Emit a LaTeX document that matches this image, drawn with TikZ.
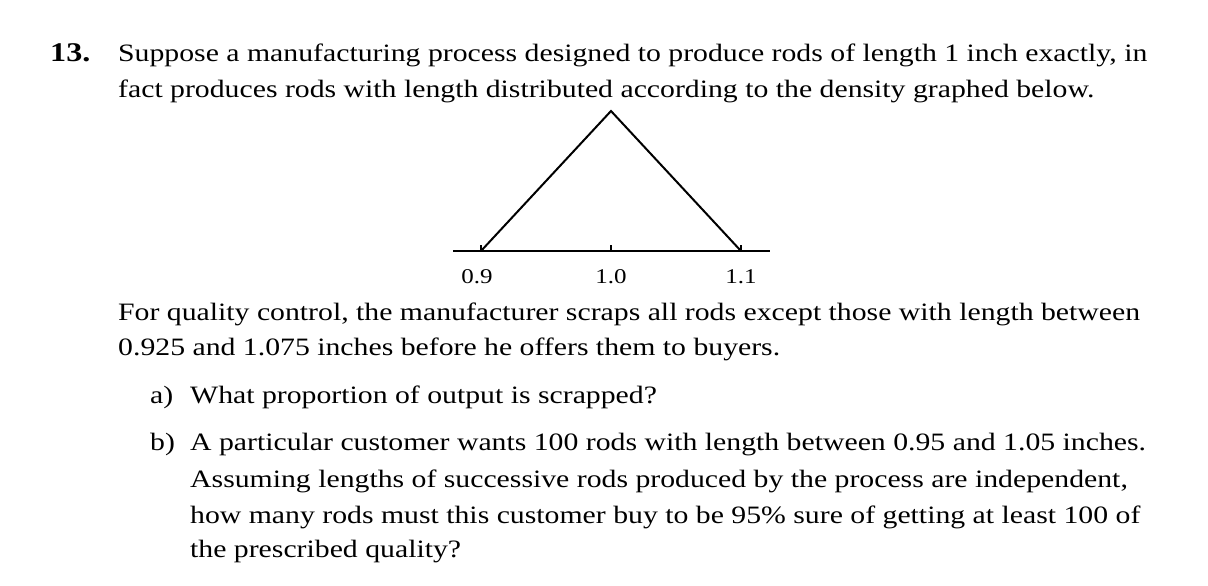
\documentclass[tikz,border=0pt]{standalone}
\usepackage{fontspec}
\setmainfont[FakeStretch=1.19]{Liberation Serif}
\begin{document}
\begin{tikzpicture}[x=1pt,y=-1pt,
  txt/.style={anchor=base west,inner sep=0pt,font=\fontsize{25}{30}\selectfont},
  lab/.style={anchor=base,inner sep=0pt,font=\fontsize{21}{25}\selectfont},
  ln/.style={line width=2pt}]
\useasboundingbox (0,0) rectangle (1208,586);
\node[txt,font=\fontsize{27}{30}\selectfont\bfseries] (n13) at (50,62) {13.};
\node[txt] (l1) at (118,62) {Suppose a manufacturing process designed to produce rods of length 1 inch exactly, in};
\node[txt] (l2) at (118,97) {fact produces rods with length distributed according to the density graphed below.};
\coordinate (axL) at (453,251); \coordinate (axR) at (770,251);
\coordinate (p1) at (481,251); \coordinate (p2) at (611,251); \coordinate (p3) at (741,251);
\coordinate (top) at (611,111);
\draw[ln] (axL) -- (axR);
\draw[ln,line join=miter] (p1) -- (top) -- (p3);
\foreach \p in {p1,p2,p3} \draw[line width=1.5pt] (\p) -- ++(0,-6);
\node[lab] (t1) at (477,283) {0.9};
\node[lab] (t2) at (611,283) {1.0};
\node[lab] (t3) at (741,283) {1.1};
\node[txt] (l3) at (118,320) {For quality control, the manufacturer scraps all rods except those with length between};
\node[txt] (l4) at (118,355) {0.925 and 1.075 inches before he offers them to buyers.};
\node[txt] (a) at (150,403) {a)};
\node[txt] (a1) at (190,403) {What proportion of output is scrapped?};
\node[txt] (b) at (150,450) {b)};
\node[txt] (b1) at (190,450) {A particular customer wants 100 rods with length between 0.95 and 1.05 inches.};
\node[txt] (b2) at (190,487) {Assuming lengths of successive rods produced by the process are independent,};
\node[txt] (b3) at (190,523) {how many rods must this customer buy to be 95\% sure of getting at least 100 of};
\node[txt] (b4) at (190,557) {the prescribed quality?};
\end{tikzpicture}
\end{document}
